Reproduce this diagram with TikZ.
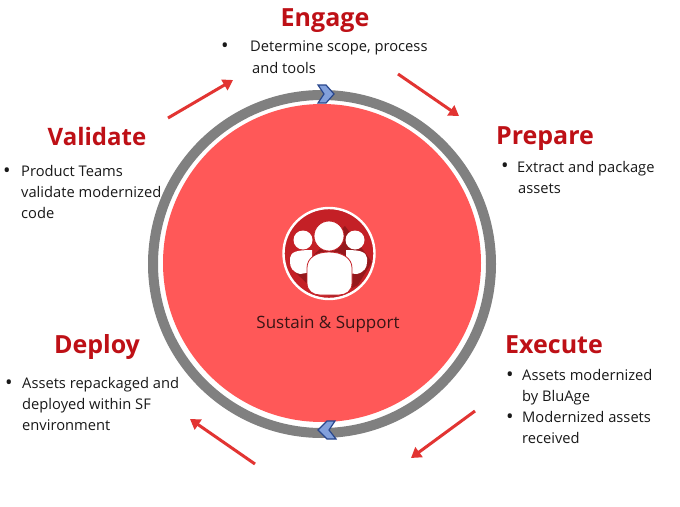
\documentclass[tikz,border=0pt]{standalone}
\usepackage{fontspec}
\setmainfont{Open Sans}
\usetikzlibrary{arrows.meta}
\definecolor{redfill}{RGB}{255,88,88}
\definecolor{ringgray}{RGB}{128,128,128}
\definecolor{arrowred}{RGB}{226,52,50}
\definecolor{darkred}{RGB}{196,32,38}
\definecolor{iconshade}{RGB}{150,24,28}
\definecolor{chevfill}{RGB}{130,160,220}
\definecolor{chevedge}{RGB}{40,70,140}
\definecolor{headred}{RGB}{190,16,22}
\definecolor{bodytxt}{RGB}{25,25,25}
\tikzset{
  x=1pt,y=-1pt,
  head/.style={font=\fontsize{25}{26}\selectfont\bfseries,text=headred,inner sep=0pt,anchor=base},
  bodytext/.style={font=\fontsize{14.7}{21.2}\selectfont,text=bodytxt,inner sep=0pt,anchor=north west,align=left},
  bullet/.style={font=\fontsize{20}{21.5}\selectfont,text=bodytxt,inner sep=0pt},
  flow/.style={draw=arrowred,line width=3pt,-{Triangle[length=10pt,width=12pt]}},
  chev/.style={fill=chevfill,draw=chevedge,line width=1.2pt,line join=miter},
  person/.style={fill=white,draw=none}
}
\begin{document}
\begin{tikzpicture}
\useasboundingbox (0,0) rectangle (680,506);
\fill[white] (0,0) rectangle (680,506);
% ring and disc
\node[circle,draw=ringgray,line width=10pt,minimum size=338pt,inner sep=0pt] (ring) at (322,264) {};
\node[circle,fill=redfill,minimum size=318pt,inner sep=0pt] (disc) at (322,263) {};
% chevrons
\draw[chev] (318,85) -- (326,85) -- (334,94) -- (326,103) -- (318,103) -- (324,94) -- cycle;
\draw[chev] (335,421) -- (327,421) -- (318,430) -- (327,439) -- (336,439) -- (329,430) -- cycle;
% icon
\node[circle,fill=darkred,draw=white,line width=2.4pt,minimum size=91pt,inner sep=0pt] (icon) at (329,253.5) {};
\fill[iconshade] (295,272) -- (345,226) -- (372,262) -- (358,285) -- (335,296.5) -- (318,294) -- cycle;
\fill[person] (303,240) circle (9.5);
\fill[person] (355,240) circle (9.5);
\fill[person] (290,258) .. controls (291,252) and (296,250) .. (312,250) -- (312,272) -- (300,274) .. controls (293,272) and (290,268) .. (290,262) -- cycle;
\fill[person] (367,258) .. controls (366,252) and (361,250) .. (346,250) -- (346,273) -- (357,274) .. controls (364,272) and (367,268) .. (367,262) -- cycle;
\draw[darkred,line width=0.8pt,fill=white] (307,268) .. controls (307,258) and (316,252) .. (329,252) .. controls (342,252) and (352,258) .. (352,268) -- (352,283) .. controls (352,291) and (346,295) .. (339,295) -- (320,295) .. controls (313,295) and (307,291) .. (307,283) -- cycle;
\draw[darkred,line width=0.8pt,fill=white] (329,236) circle (15);
\node[font=\fontsize{17}{18}\selectfont,text=bodytxt!85!red,inner sep=0pt] (sustain) at (328,324) {Sustain \& Support};
% headings
\node[head] (engage) at (325,26.5) {Engage};
\node[head] (prepare) at (545,144.5) {Prepare};
\node[head] (execute) at (554,353) {Execute};
\node[head] (deploy) at (97,353.5) {Deploy};
\node[head,font=\fontsize{24}{26}\selectfont\bfseries] (validate) at (97,145) {Validate};
% body text
\node[bullet] (b1) at (225,48) {•};
\node[bodytext] (t1) at (250,41) {Determine scope, process\\\hspace*{2pt}and tools};
\node[bullet] (b2) at (505,168) {•};
\node[bodytext] (t2) at (517,161) {Extract and package\\\hspace*{1pt}assets};
\node[bullet] (b3) at (510,377) {•};
\node[bodytext] (t3) at (522,369) {Assets modernized\\by BluAge};
\node[bullet] (b4) at (510,419) {•};
\node[bodytext] (t4) at (522,411) {Modernized assets\\received};
\node[bullet] (b5) at (9,385) {•};
\node[bodytext] (t5) at (22,377) {Assets repackaged and\\deployed within SF\\environment};
\node[bullet] (b6) at (7,173) {•};
\node[bodytext] (t6) at (21,165) {Product Teams\\validate modernized\\code};
% flow arrows
\coordinate (a1s) at (168,118); \coordinate (a1e) at (233,80);
\coordinate (a2s) at (398,74); \coordinate (a2e) at (459,116);
\coordinate (a3s) at (475,411); \coordinate (a3e) at (411,458);
\coordinate (a4s) at (255,464); \coordinate (a4e) at (190,419);
\draw[flow] (a1s) -- (a1e);
\draw[flow] (a2s) -- (a2e);
\draw[flow] (a3s) -- (a3e);
\draw[flow] (a4s) -- (a4e);
\end{tikzpicture}
\end{document}
